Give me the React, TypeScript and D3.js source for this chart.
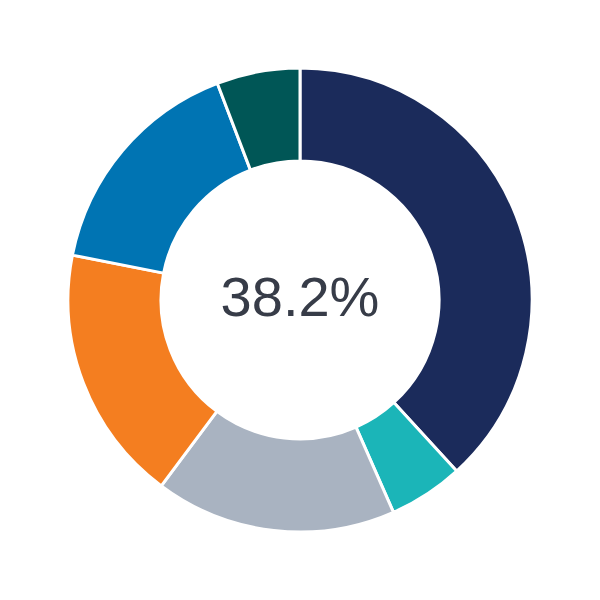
import React from "react";
import * as d3 from "d3";

const categories = ["A", "B", "C", "D", "E", "F"];
const values = [38.2, 5.2, 16.8, 17.9, 16.1, 5.8];
const colors = ["#1b2b5b", "#1bb5b8", "#a9b3c1", "#f47e20", "#0074b3", "#005656"];
const centerLabel = "38.2%";

export default function App() {
  const width = 600;
  const height = 600;
  const cx = 300;
  const cy = 300;
  const outer = 232;
  const inner = 139;

  const pie = d3.pie<number>().sort(null).value((d) => d);
  const arcs = pie(values);
  const arc = d3.arc<d3.PieArcDatum<number>>().innerRadius(inner).outerRadius(outer);

  return (
    <svg width={width} height={height} style={{ position: "absolute", left: 0, top: 0 }}>
      <rect width={width} height={height} fill="#ffffff" />
      <g transform={`translate(${cx},${cy})`}>
        {arcs.map((a, i) => (
          <path
            key={categories[i]}
            d={arc(a) || ""}
            fill={colors[i]}
            stroke="#ffffff"
            strokeWidth={3}
          />
        ))}
        <text
          x={0}
          y={16}
          textAnchor="middle"
          fontFamily="'Liberation Sans', Arial, sans-serif"
          fontSize={56}
          fill="#373c48"
        >
          {centerLabel}
        </text>
      </g>
    </svg>
  );
}
